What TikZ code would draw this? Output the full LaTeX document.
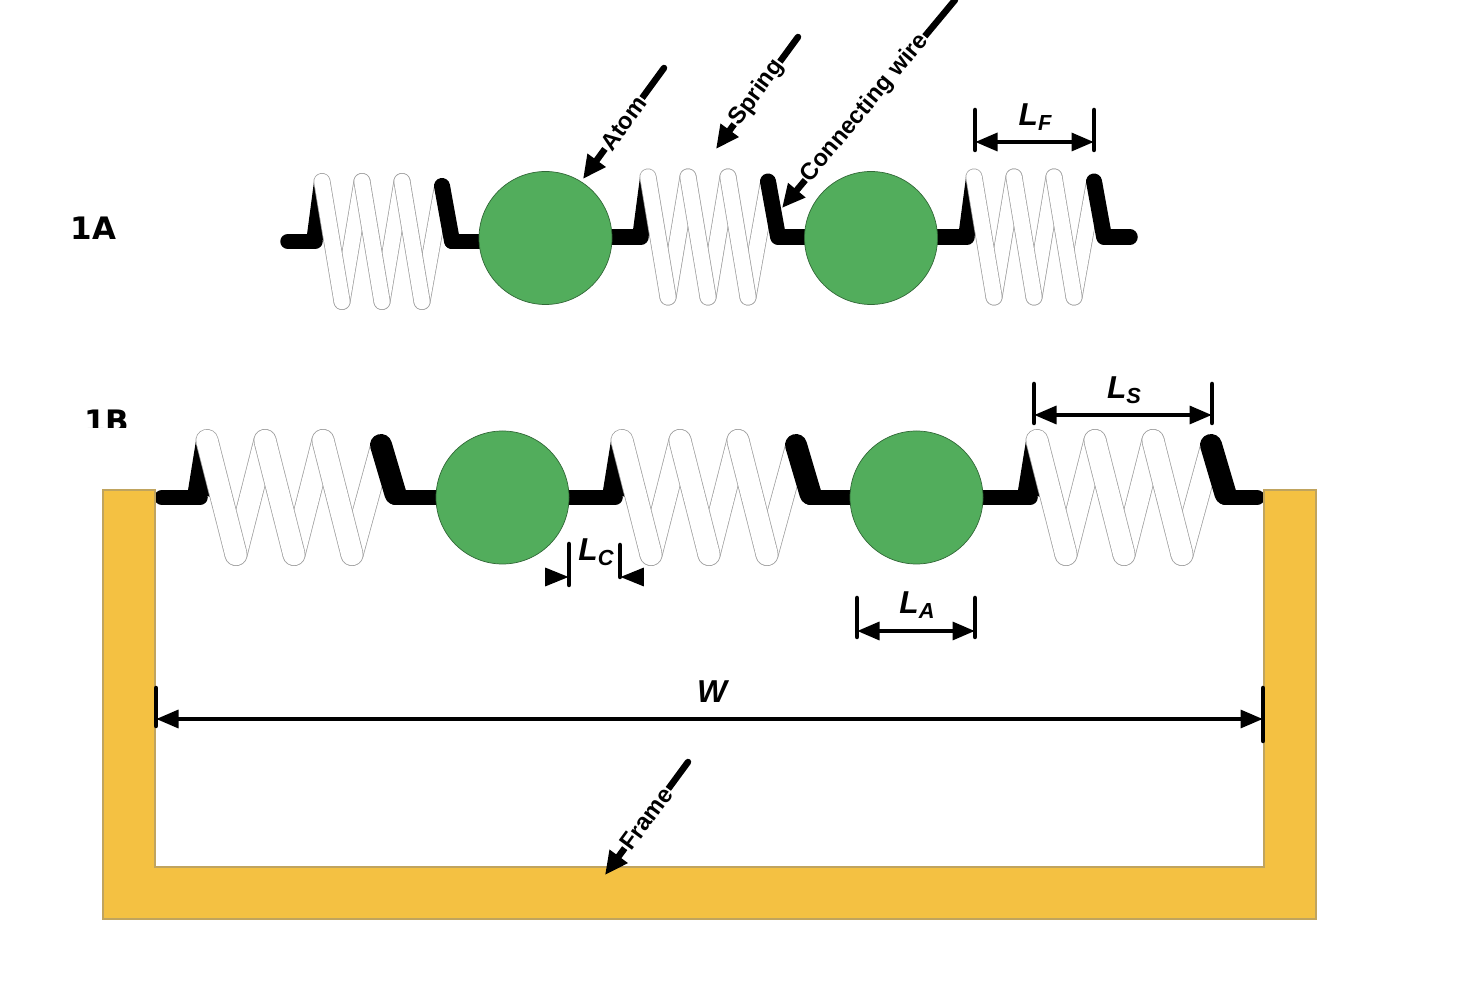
\documentclass[tikz,border=0pt]{standalone}
\usepackage{fontspec}
\setmainfont{Liberation Sans}
\newfontfamily\panelfont{DejaVu Sans}
\usetikzlibrary{arrows.meta}
\pgfdeclarelayer{coils}
\pgfsetlayers{coils,main}
\definecolor{atomgreen}{HTML}{52AD5C}
\definecolor{framegold}{HTML}{F4C142}
\definecolor{coilgray}{HTML}{A0A0A0}
\tikzset{
  atom/.style={circle, draw=atomgreen!60!black, line width=0.2pt, fill=atomgreen, minimum size=133*0.01cm, inner sep=0pt},
  framebar/.style={draw=framegold!55!gray, line width=0.3pt, fill=framegold},
  wire/.style={black, line width=15.5*0.01cm, line cap=round, line join=round},
  leader/.style={black, line width=6.5*0.01cm, line cap=round, -{Triangle[length=6.6pt,width=6pt]}},
  leadertext/.style={sloped, fill=white, inner sep=0.3pt, font=\fontsize{6.75}{7}\selectfont\bfseries},
  dimline/.style={black, line width=4.5*0.01cm, {Triangle[length=6.4pt,width=5pt]}-{Triangle[length=6.4pt,width=5pt]}},
  dimhead/.style={black, line width=4.5*0.01cm, -{Triangle[length=6.8pt,width=5pt]}},
  dimbar/.style={black, line width=4.5*0.01cm, line cap=round},
  dimtext/.style={inner sep=0pt, font=\fontsize{9}{9}\selectfont\bfseries\itshape},
  paneltext/.style={inner sep=0pt, font=\fontsize{8.8}{10}\selectfont\panelfont\bfseries},
}
\newcommand{\subdim}[2]{#1\raisebox{-1.3pt}{\fontsize{6.2}{7}\selectfont #2}}
% first top x, half pitch, mid y, band width, left end, right end
\newcommand{\springcoil}[6]{
  \pgfmathsetmacro{\amp}{68-#4/2}
  % left foot, under the front turns
  \fill[black] (#1-6-0.45*#2,#3-7) -- (#1-#4/2,#3-\amp) -- (#1+#4/4,#3) -- cycle;
  \draw[wire] (#5) -- (#1-7,#3);
  % back turns
  \foreach \k/\shrink in {0/0,1/0,2/8} {
    \draw[coilgray, line width=(#4+1)*0.01cm, line cap=round] (#1+2*\k*#2+#2,#3+\amp) -- (#1+2*\k*#2+2*#2,#3-\amp+\shrink);
    \draw[white, line width=(#4-0.5)*0.01cm, line cap=round] (#1+2*\k*#2+#2,#3+\amp) -- (#1+2*\k*#2+2*#2,#3-\amp+\shrink);
  }
  % right foot
  \draw[wire, line width=#4*0.01cm] (#1+6*#2,#3-\amp+4.5) -- (#1+6.5*#2,#3+7.5-#4/2);
  \draw[wire] (#1+6.5*#2,#3) -- (#6);
  % front turns
  \foreach \k in {0,1,2} {
    \draw[coilgray, line width=(#4+1)*0.01cm, line cap=round] (#1+2*\k*#2,#3-\amp) -- (#1+2*\k*#2+#2,#3+\amp);
    \draw[white, line width=(#4-0.5)*0.01cm, line cap=round] (#1+2*\k*#2,#3-\amp) -- (#1+2*\k*#2+#2,#3+\amp);
  }
}
\begin{document}
\begin{tikzpicture}[x=0.01cm, y=-0.01cm]
  \useasboundingbox (0,0) rectangle (1458,998);
  % Frame
  \draw[framebar] (103,490) -- (155,490) -- (155,867) -- (1264,867) -- (1264,490) -- (1316,490) -- (1316,919) -- (103,919) -- cycle;
  \coordinate (frameL) at (162,497.5);
  \coordinate (frameR) at (1257,497.5);
  % Atoms
  \node[atom] (atomA1) at (545.5,238) {};
  \node[atom] (atomA2) at (871,238) {};
  \node[atom] (atomB1) at (502.5,497.5) {};
  \node[atom] (atomB2) at (916.5,497.5) {};
  \coordinate (endAL) at (288,241.5);
  \coordinate (endAR) at (1130,237);
  \begin{pgfonlayer}{coils}
    % Row 1A
    \springcoil{322}{20}{241.5}{16}{endAL}{atomA1.center |- 0,241.5}
    \springcoil{648}{20}{237}{16}{atomA1.center |- 0,237}{atomA2.center |- 0,237}
    \springcoil{974}{20}{237}{16}{atomA2.center |- 0,237}{endAR}
    % Row 1B
    \springcoil{207}{29}{497.5}{22}{frameL}{atomB1.center}
    \springcoil{622}{29}{497.5}{22}{atomB1.center}{atomB2.center}
    \springcoil{1037}{29}{497.5}{22}{atomB2.center}{frameR}
  \end{pgfonlayer}
  % Panel labels
  \node[paneltext] (panelA) at (93.5,228) {1A};
  \node[paneltext] (panelB) at (107,421) {1B};
  \fill[white] (80,428.5) rectangle (135,442);
  % Leaders
  \coordinate (atomTail) at (664,68);
  \coordinate (atomTip) at (583,179);
  \coordinate (springTail) at (798,37);
  \coordinate (springTip) at (716,149);
  \coordinate (wireTail) at (955,0);
  \coordinate (wireTip) at (782,208);
  \coordinate (frameTail) at (688,762);
  \coordinate (frameTip) at (605,875);
  \draw[leader] (atomTail) -- node[leadertext] (atomName) {Atom} (atomTip);
  \draw[leader] (springTail) -- node[leadertext] (springName) {Spring} (springTip);
  \draw[leader] (wireTail) -- node[leadertext, pos=0.52] (wireName) {Connecting wire} (wireTip);
  \draw[leader] (frameTail) -- node[leadertext] (frameName) {Frame} (frameTip);
  % LF
  \coordinate (lfL) at (975,142);
  \coordinate (lfR) at (1094,142);
  \draw[dimbar] (975,110) -- (975,150);
  \draw[dimbar] (1094,110) -- (1094,150);
  \draw[dimline] (lfL) -- (lfR);
  \node[dimtext] (lfText) at (1035,117) {\subdim{L}{F}};
  % LS
  \coordinate (lsL) at (1034,415);
  \coordinate (lsR) at (1212,415);
  \draw[dimbar] (1034,384) -- (1034,423);
  \draw[dimbar] (1212,384) -- (1212,423);
  \draw[dimline] (lsL) -- (lsR);
  \node[dimtext] (lsText) at (1124,390) {\subdim{L}{S}};
  % LA
  \coordinate (laL) at (857,631);
  \coordinate (laR) at (975,631);
  \draw[dimbar] (857,598) -- (857,637);
  \draw[dimbar] (975,598) -- (975,637);
  \draw[dimline] (laL) -- (laR);
  \node[dimtext] (laText) at (917,605) {\subdim{L}{A}};
  % LC
  \coordinate (lcL) at (569,577);
  \coordinate (lcR) at (620,577);
  \coordinate (lcLout) at (545,577);
  \coordinate (lcRout) at (644,577);
  \draw[dimbar] (569,544) -- (569,585);
  \draw[dimbar] (620,545) -- (620,577);
  \draw[dimhead] (lcLout) -- (lcL);
  \draw[dimhead] (lcRout) -- (lcR);
  \node[dimtext] (lcText) at (596,552) {\subdim{L}{C}};
  % W
  \coordinate (wL) at (156,719);
  \coordinate (wR) at (1263,719);
  \draw[dimbar] (156,688) -- (156,726);
  \draw[dimbar] (1263,688) -- (1263,741);
  \draw[dimline] (wL) -- (wR);
  \node[dimtext] (wText) at (712,692) {W};
\end{tikzpicture}
\end{document}
